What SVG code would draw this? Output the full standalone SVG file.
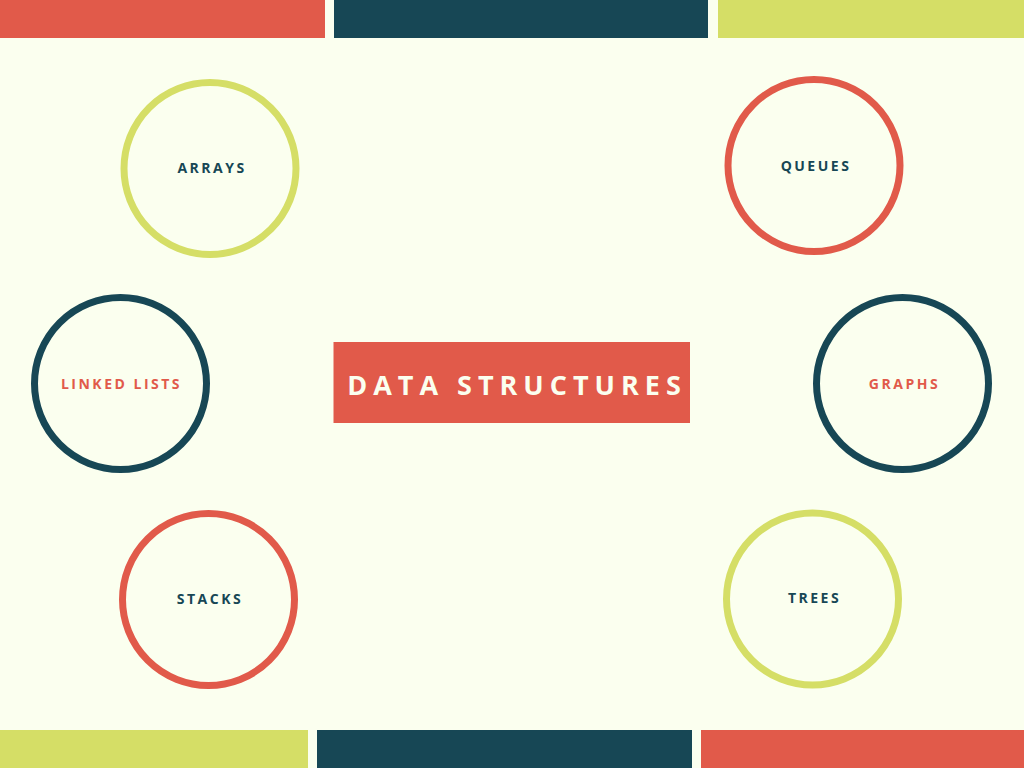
<svg xmlns="http://www.w3.org/2000/svg" width="1024" height="768" viewBox="0 0 1024 768">
<style>
.ring{fill:none;stroke-width:7}
.red{stroke:#E15A4A}
.navy{stroke:#174755}
.lime{stroke:#D5DE66}
.lbl{font-family:"Open Sans","DejaVu Sans",sans-serif;font-weight:700;font-size:14px;letter-spacing:2.5px;text-anchor:middle}
.title{font-family:"Open Sans","DejaVu Sans",sans-serif;font-weight:700;font-size:27px;letter-spacing:6px;text-anchor:middle;fill:#FBFFEF}
</style>
<rect width="1024" height="768" fill="#FBFFEF"/>
<g id="bars">
<rect x="0" y="0" width="325" height="38" fill="#E15A4A"/>
<rect x="334" y="0" width="374" height="38" fill="#174755"/>
<rect x="718" y="0" width="306" height="38" fill="#D5DE66"/>
<rect x="0" y="730" width="308" height="38" fill="#D5DE66"/>
<rect x="317" y="730" width="375" height="38" fill="#174755"/>
<rect x="701" y="730" width="323" height="38" fill="#E15A4A"/>
</g>
<g id="connectors"></g>
<g id="center">
<rect x="333.5" y="342" width="356.5" height="81" fill="#E15A4A"/>
<text class="title" x="517" y="394.5">DATA STRUCTURES</text>
</g>
<g id="arrays">
<circle class="ring lime" cx="210" cy="168.5" r="86"/>
<text class="lbl" x="212" y="173" fill="#174755">ARRAYS</text>
</g>
<g id="linked-lists">
<circle class="ring navy" cx="120.5" cy="383.5" r="86"/>
<text class="lbl" x="121.5" y="389" fill="#E15A4A">LINKED LISTS</text>
</g>
<g id="stacks">
<circle class="ring red" cx="208.5" cy="599.5" r="86"/>
<text class="lbl" x="210" y="604" fill="#174755">STACKS</text>
</g>
<g id="queues">
<circle class="ring red" cx="814" cy="165.5" r="86"/>
<text class="lbl" x="816" y="170.5" fill="#174755">QUEUES</text>
</g>
<g id="graphs">
<circle class="ring navy" cx="902.5" cy="383.5" r="86"/>
<text class="lbl" x="904.5" y="389" fill="#E15A4A">GRAPHS</text>
</g>
<g id="trees">
<circle class="ring lime" cx="812.5" cy="599" r="86"/>
<text class="lbl" x="814.5" y="603" fill="#174755">TREES</text>
</g>
</svg>
